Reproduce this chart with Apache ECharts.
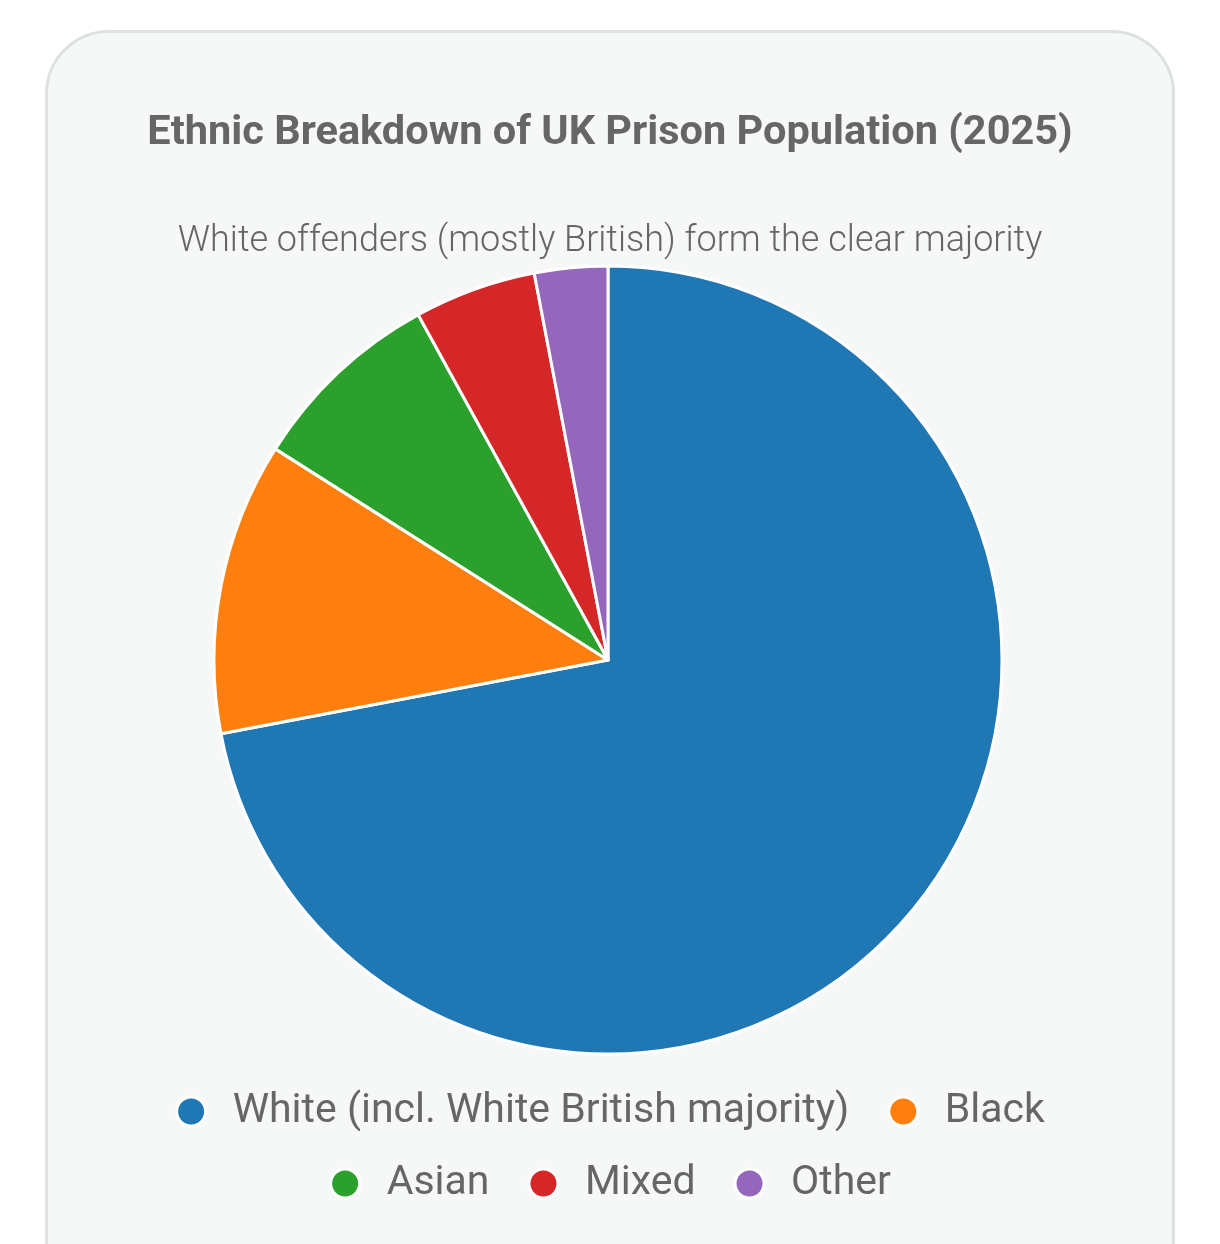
<!DOCTYPE html>
<html><head><meta charset="utf-8">
<script src="https://cdn.jsdelivr.net/npm/echarts@6/dist/echarts.min.js"></script>
<style>
html,body{margin:0;padding:0;background:#ffffff;width:1220px;height:1244px;overflow:hidden;}
#card{position:absolute;left:45px;top:30px;width:1130px;height:1300px;background:#f6f7f7;border:3px solid #dde1e1;border-radius:64px;box-sizing:border-box;}
#chart{position:absolute;left:0;top:0;width:1220px;height:1244px;}
</style></head>
<body>
<div id="card"></div>
<div id="chart"></div>
<script>
const categories = ["White (incl. White British majority)", "Black", "Asian", "Mixed", "Other"];
const shares = [72, 12, 8, 5, 3];
const colors = ["#1f77b4", "#ff7f0e", "#2ca02c", "#d62728", "#9467bd"];
const legendRow1 = ["White (incl. White British majority)", "Black"];
const legendRow2 = ["Asian", "Mixed", "Other"];
const titleText = "Ethnic Breakdown of UK Prison Population (2025)";
const subtitleText = "White offenders (mostly British) form the clear majority";

const legendBase = {
  left: 'center',
  icon: 'circle',
  itemWidth: 29,
  itemHeight: 29,
  itemGap: 38,
  itemStyle: {borderColor: '#ffffff', borderWidth: 3},
  textStyle: {fontFamily: 'Roboto', fontSize: 41, color: '#666666', padding: [0,0,0,22]}
};

const chart = echarts.init(document.getElementById('chart'), null, {renderer:'canvas'});
chart.setOption({
  backgroundColor: 'transparent',
  color: colors,
  title: [
    {text: titleText, left: 'center', top: 108,
     textStyle: {fontFamily: 'Roboto', fontSize: 41.5, fontWeight: 'bold', color: '#666666'}},
    {text: subtitleText, left: 'center', top: 219,
     textStyle: {fontFamily: 'Roboto', fontSize: 36, fontWeight: 300, color: '#666666'}}
  ],
  legend: [
    Object.assign({}, legendBase, {data: legendRow1, top: 1086}),
    Object.assign({}, legendBase, {data: legendRow2, top: 1158})
  ],
  series: [{
    type: 'pie',
    center: [608, 660],
    radius: 394,
    startAngle: 90,
    clockwise: true,
    label: {show: false},
    labelLine: {show: false},
    itemStyle: {borderColor: '#ffffff', borderWidth: 3},
    emphasis: {disabled: true},
    data: categories.map((c, i) => ({name: c, value: shares[i]}))
  }]
});
</script>
</body></html>
